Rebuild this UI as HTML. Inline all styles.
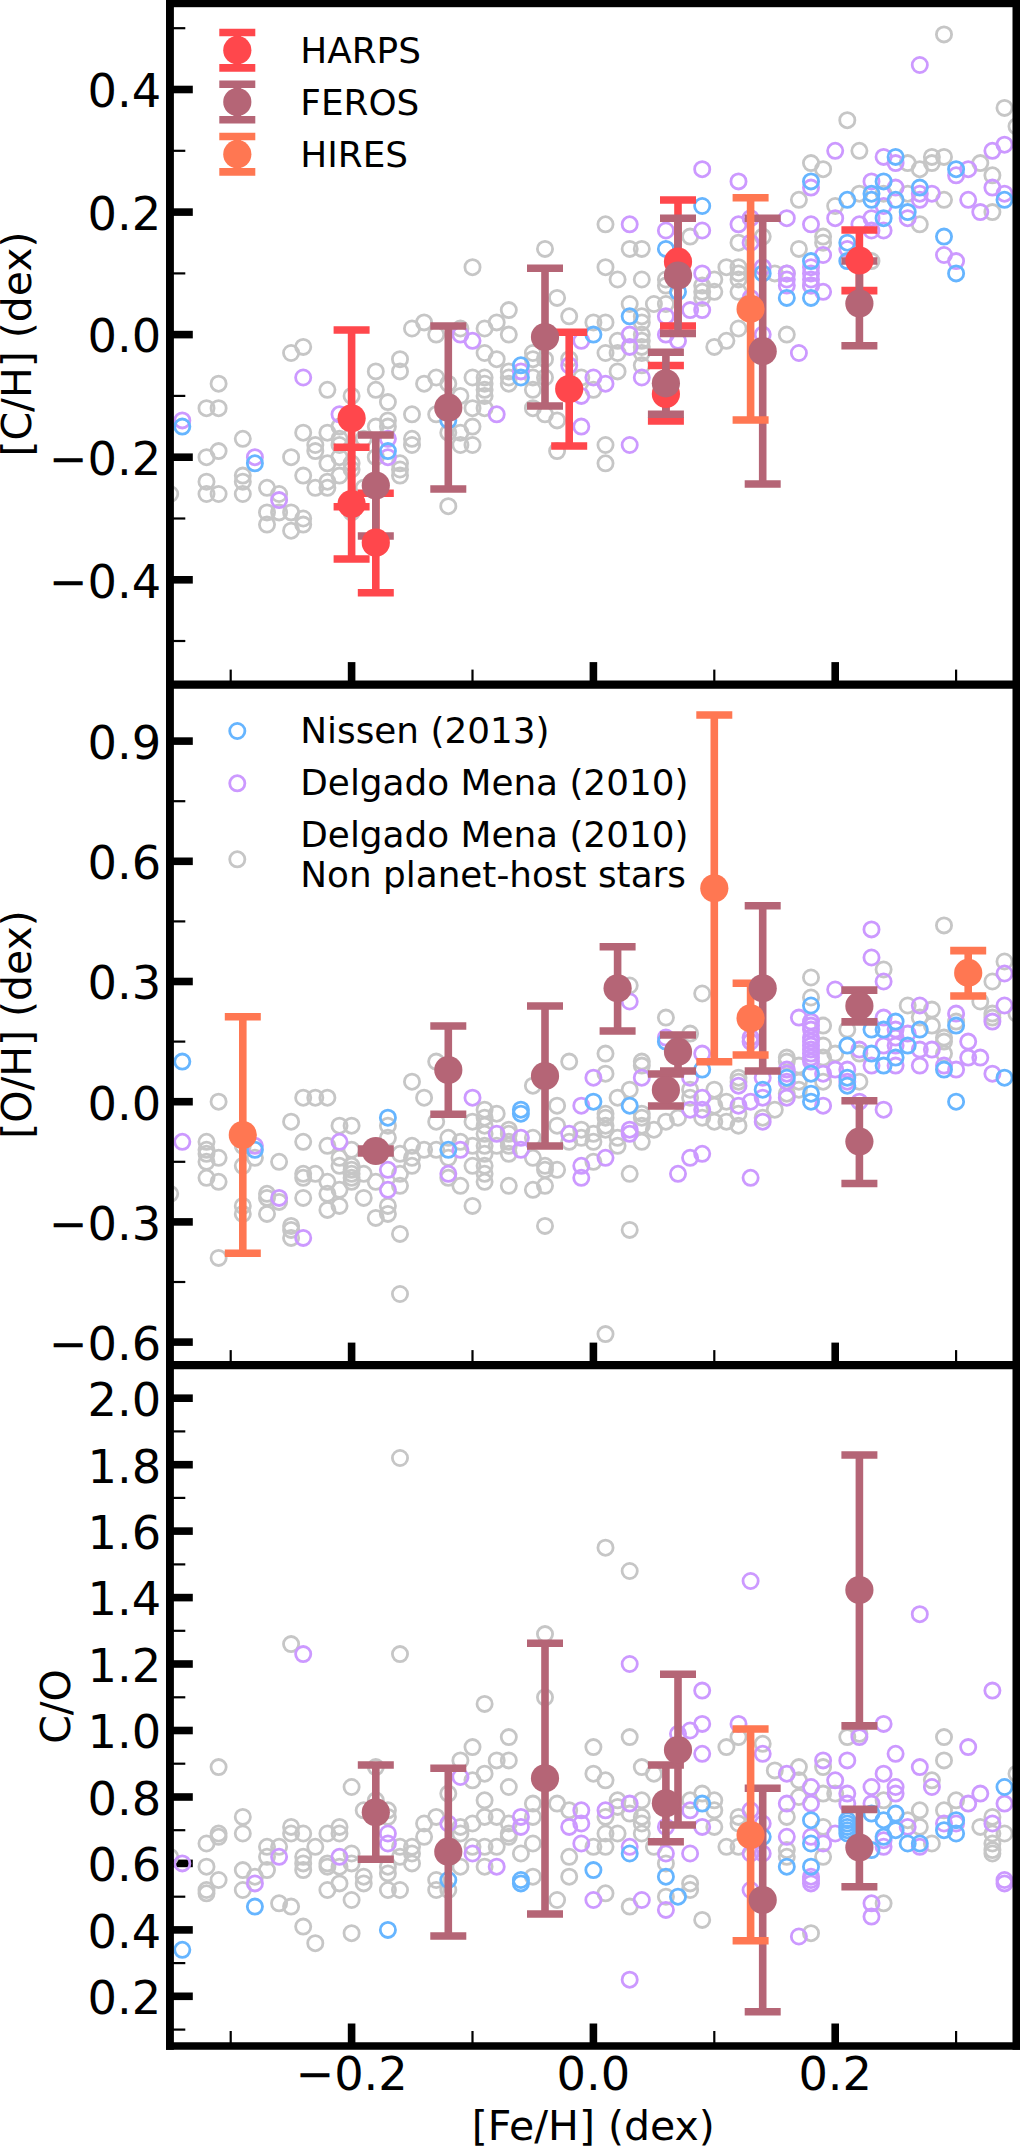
<!DOCTYPE html><html><head><meta charset="utf-8"><title>abundances</title>
<style>html,body{margin:0;padding:0;background:#fff}svg{display:block}text{font-family:"DejaVu Sans","Liberation Sans",sans-serif;fill:#000}</style></head><body>
<svg width="1020" height="2146" viewBox="0 0 1020 2146">
<rect width="1020" height="2146" fill="#fff"/>
<defs>
<clipPath id="c1"><rect x="170.3" y="3.6" width="846.0" height="681.0"/></clipPath>
<clipPath id="c2"><rect x="170.3" y="684.6" width="846.0" height="680.4999999999999"/></clipPath>
<clipPath id="c3"><rect x="170.3" y="1365.1" width="846.0" height="680.9000000000001"/></clipPath>
</defs>
<g stroke="#000" fill="none">
<path d="M351.6 684.6v-22.5" stroke-width="7.6"/>
<path d="M593.4 684.6v-22.5" stroke-width="7.6"/>
<path d="M835.2 684.6v-22.5" stroke-width="7.6"/>
<path d="M230.7 684.6v-15" stroke-width="2.2"/>
<path d="M472.5 684.6v-15" stroke-width="2.2"/>
<path d="M714.3 684.6v-15" stroke-width="2.2"/>
<path d="M956.1 684.6v-15" stroke-width="2.2"/>
<path d="M351.6 1365.1v-22.5" stroke-width="7.6"/>
<path d="M593.4 1365.1v-22.5" stroke-width="7.6"/>
<path d="M835.2 1365.1v-22.5" stroke-width="7.6"/>
<path d="M230.7 1365.1v-15" stroke-width="2.2"/>
<path d="M472.5 1365.1v-15" stroke-width="2.2"/>
<path d="M714.3 1365.1v-15" stroke-width="2.2"/>
<path d="M956.1 1365.1v-15" stroke-width="2.2"/>
<path d="M351.6 2046.0v-22.5" stroke-width="7.6"/>
<path d="M593.4 2046.0v-22.5" stroke-width="7.6"/>
<path d="M835.2 2046.0v-22.5" stroke-width="7.6"/>
<path d="M230.7 2046.0v-15" stroke-width="2.2"/>
<path d="M472.5 2046.0v-15" stroke-width="2.2"/>
<path d="M714.3 2046.0v-15" stroke-width="2.2"/>
<path d="M956.1 2046.0v-15" stroke-width="2.2"/>
<path d="M170.3 89.5h22.5" stroke-width="7.6"/>
<path d="M170.3 212.1h22.5" stroke-width="7.6"/>
<path d="M170.3 334.6h22.5" stroke-width="7.6"/>
<path d="M170.3 457.2h22.5" stroke-width="7.6"/>
<path d="M170.3 579.8h22.5" stroke-width="7.6"/>
<path d="M170.3 28.2h15" stroke-width="2.2"/>
<path d="M170.3 150.8h15" stroke-width="2.2"/>
<path d="M170.3 273.4h15" stroke-width="2.2"/>
<path d="M170.3 395.9h15" stroke-width="2.2"/>
<path d="M170.3 518.5h15" stroke-width="2.2"/>
<path d="M170.3 641.0h15" stroke-width="2.2"/>
<path d="M170.3 741.1h22.5" stroke-width="7.6"/>
<path d="M170.3 861.3h22.5" stroke-width="7.6"/>
<path d="M170.3 981.5h22.5" stroke-width="7.6"/>
<path d="M170.3 1101.7h22.5" stroke-width="7.6"/>
<path d="M170.3 1221.9h22.5" stroke-width="7.6"/>
<path d="M170.3 1342.1h22.5" stroke-width="7.6"/>
<path d="M170.3 801.2h15" stroke-width="2.2"/>
<path d="M170.3 921.4h15" stroke-width="2.2"/>
<path d="M170.3 1041.6h15" stroke-width="2.2"/>
<path d="M170.3 1161.8h15" stroke-width="2.2"/>
<path d="M170.3 1282.0h15" stroke-width="2.2"/>
<path d="M170.3 1398.2h22.5" stroke-width="7.6"/>
<path d="M170.3 1464.7h22.5" stroke-width="7.6"/>
<path d="M170.3 1531.1h22.5" stroke-width="7.6"/>
<path d="M170.3 1597.6h22.5" stroke-width="7.6"/>
<path d="M170.3 1664.0h22.5" stroke-width="7.6"/>
<path d="M170.3 1730.5h22.5" stroke-width="7.6"/>
<path d="M170.3 1797.0h22.5" stroke-width="7.6"/>
<path d="M170.3 1863.4h22.5" stroke-width="7.6"/>
<path d="M170.3 1929.9h22.5" stroke-width="7.6"/>
<path d="M170.3 1996.3h22.5" stroke-width="7.6"/>
<path d="M170.3 1431.4h15" stroke-width="2.2"/>
<path d="M170.3 1497.9h15" stroke-width="2.2"/>
<path d="M170.3 1564.4h15" stroke-width="2.2"/>
<path d="M170.3 1630.8h15" stroke-width="2.2"/>
<path d="M170.3 1697.3h15" stroke-width="2.2"/>
<path d="M170.3 1763.7h15" stroke-width="2.2"/>
<path d="M170.3 1830.2h15" stroke-width="2.2"/>
<path d="M170.3 1896.7h15" stroke-width="2.2"/>
<path d="M170.3 1963.1h15" stroke-width="2.2"/>
<path d="M170.3 2029.6h15" stroke-width="2.2"/>
</g>
<g clip-path="url(#c1)" fill="none" stroke-width="2.8">
<g stroke="#c6c6c6">
<circle cx="170.2" cy="494.0" r="7.6"/>
<circle cx="206.5" cy="494.0" r="7.6"/>
<circle cx="206.5" cy="481.7" r="7.6"/>
<circle cx="206.5" cy="457.2" r="7.6"/>
<circle cx="206.5" cy="408.2" r="7.6"/>
<circle cx="218.6" cy="494.0" r="7.6"/>
<circle cx="218.6" cy="451.1" r="7.6"/>
<circle cx="218.6" cy="408.2" r="7.6"/>
<circle cx="218.6" cy="383.7" r="7.6"/>
<circle cx="242.8" cy="494.0" r="7.6"/>
<circle cx="242.8" cy="481.7" r="7.6"/>
<circle cx="242.8" cy="475.6" r="7.6"/>
<circle cx="242.8" cy="438.8" r="7.6"/>
<circle cx="267.0" cy="524.6" r="7.6"/>
<circle cx="267.0" cy="512.4" r="7.6"/>
<circle cx="267.0" cy="487.8" r="7.6"/>
<circle cx="279.1" cy="512.4" r="7.6"/>
<circle cx="279.1" cy="494.0" r="7.6"/>
<circle cx="291.1" cy="530.7" r="7.6"/>
<circle cx="291.1" cy="512.4" r="7.6"/>
<circle cx="291.1" cy="457.2" r="7.6"/>
<circle cx="291.1" cy="353.0" r="7.6"/>
<circle cx="303.2" cy="524.6" r="7.6"/>
<circle cx="303.2" cy="518.5" r="7.6"/>
<circle cx="303.2" cy="475.6" r="7.6"/>
<circle cx="303.2" cy="432.7" r="7.6"/>
<circle cx="303.2" cy="346.9" r="7.6"/>
<circle cx="315.3" cy="487.8" r="7.6"/>
<circle cx="315.3" cy="451.1" r="7.6"/>
<circle cx="315.3" cy="445.0" r="7.6"/>
<circle cx="327.4" cy="487.8" r="7.6"/>
<circle cx="327.4" cy="481.7" r="7.6"/>
<circle cx="327.4" cy="463.3" r="7.6"/>
<circle cx="327.4" cy="432.7" r="7.6"/>
<circle cx="327.4" cy="389.8" r="7.6"/>
<circle cx="339.5" cy="475.6" r="7.6"/>
<circle cx="339.5" cy="457.2" r="7.6"/>
<circle cx="339.5" cy="445.0" r="7.6"/>
<circle cx="339.5" cy="438.8" r="7.6"/>
<circle cx="339.5" cy="426.6" r="7.6"/>
<circle cx="351.6" cy="512.4" r="7.6"/>
<circle cx="351.6" cy="469.5" r="7.6"/>
<circle cx="351.6" cy="463.3" r="7.6"/>
<circle cx="351.6" cy="395.9" r="7.6"/>
<circle cx="363.7" cy="487.8" r="7.6"/>
<circle cx="363.7" cy="438.8" r="7.6"/>
<circle cx="375.8" cy="457.2" r="7.6"/>
<circle cx="375.8" cy="426.6" r="7.6"/>
<circle cx="375.8" cy="389.8" r="7.6"/>
<circle cx="375.8" cy="371.4" r="7.6"/>
<circle cx="387.9" cy="426.6" r="7.6"/>
<circle cx="387.9" cy="420.4" r="7.6"/>
<circle cx="387.9" cy="402.1" r="7.6"/>
<circle cx="400.0" cy="475.6" r="7.6"/>
<circle cx="400.0" cy="469.5" r="7.6"/>
<circle cx="400.0" cy="463.3" r="7.6"/>
<circle cx="400.0" cy="371.4" r="7.6"/>
<circle cx="400.0" cy="359.2" r="7.6"/>
<circle cx="412.0" cy="445.0" r="7.6"/>
<circle cx="412.0" cy="438.8" r="7.6"/>
<circle cx="412.0" cy="414.3" r="7.6"/>
<circle cx="412.0" cy="328.5" r="7.6"/>
<circle cx="424.1" cy="383.7" r="7.6"/>
<circle cx="424.1" cy="322.4" r="7.6"/>
<circle cx="436.2" cy="414.3" r="7.6"/>
<circle cx="436.2" cy="377.5" r="7.6"/>
<circle cx="436.2" cy="334.6" r="7.6"/>
<circle cx="448.3" cy="506.2" r="7.6"/>
<circle cx="448.3" cy="432.7" r="7.6"/>
<circle cx="448.3" cy="383.7" r="7.6"/>
<circle cx="460.4" cy="445.0" r="7.6"/>
<circle cx="460.4" cy="432.7" r="7.6"/>
<circle cx="460.4" cy="395.9" r="7.6"/>
<circle cx="460.4" cy="328.5" r="7.6"/>
<circle cx="472.5" cy="445.0" r="7.6"/>
<circle cx="472.5" cy="426.6" r="7.6"/>
<circle cx="472.5" cy="408.2" r="7.6"/>
<circle cx="472.5" cy="377.5" r="7.6"/>
<circle cx="472.5" cy="267.2" r="7.6"/>
<circle cx="484.6" cy="408.2" r="7.6"/>
<circle cx="484.6" cy="395.9" r="7.6"/>
<circle cx="484.6" cy="389.8" r="7.6"/>
<circle cx="484.6" cy="383.7" r="7.6"/>
<circle cx="484.6" cy="377.5" r="7.6"/>
<circle cx="484.6" cy="353.0" r="7.6"/>
<circle cx="484.6" cy="328.5" r="7.6"/>
<circle cx="496.7" cy="359.2" r="7.6"/>
<circle cx="496.7" cy="322.4" r="7.6"/>
<circle cx="508.8" cy="383.7" r="7.6"/>
<circle cx="508.8" cy="377.5" r="7.6"/>
<circle cx="508.8" cy="371.4" r="7.6"/>
<circle cx="508.8" cy="334.6" r="7.6"/>
<circle cx="508.8" cy="310.1" r="7.6"/>
<circle cx="532.9" cy="408.2" r="7.6"/>
<circle cx="532.9" cy="389.8" r="7.6"/>
<circle cx="532.9" cy="377.5" r="7.6"/>
<circle cx="532.9" cy="359.2" r="7.6"/>
<circle cx="532.9" cy="353.0" r="7.6"/>
<circle cx="545.0" cy="414.3" r="7.6"/>
<circle cx="545.0" cy="377.5" r="7.6"/>
<circle cx="545.0" cy="359.2" r="7.6"/>
<circle cx="545.0" cy="248.9" r="7.6"/>
<circle cx="557.1" cy="451.1" r="7.6"/>
<circle cx="557.1" cy="420.4" r="7.6"/>
<circle cx="557.1" cy="297.9" r="7.6"/>
<circle cx="569.2" cy="359.2" r="7.6"/>
<circle cx="569.2" cy="316.3" r="7.6"/>
<circle cx="581.3" cy="377.5" r="7.6"/>
<circle cx="593.4" cy="389.8" r="7.6"/>
<circle cx="593.4" cy="322.4" r="7.6"/>
<circle cx="605.5" cy="463.3" r="7.6"/>
<circle cx="605.5" cy="445.0" r="7.6"/>
<circle cx="605.5" cy="353.0" r="7.6"/>
<circle cx="605.5" cy="322.4" r="7.6"/>
<circle cx="605.5" cy="267.2" r="7.6"/>
<circle cx="605.5" cy="224.3" r="7.6"/>
<circle cx="617.6" cy="371.4" r="7.6"/>
<circle cx="617.6" cy="353.0" r="7.6"/>
<circle cx="617.6" cy="340.8" r="7.6"/>
<circle cx="617.6" cy="279.5" r="7.6"/>
<circle cx="629.7" cy="304.0" r="7.6"/>
<circle cx="629.7" cy="248.9" r="7.6"/>
<circle cx="641.8" cy="365.3" r="7.6"/>
<circle cx="641.8" cy="353.0" r="7.6"/>
<circle cx="641.8" cy="346.9" r="7.6"/>
<circle cx="641.8" cy="340.8" r="7.6"/>
<circle cx="641.8" cy="334.6" r="7.6"/>
<circle cx="641.8" cy="322.4" r="7.6"/>
<circle cx="641.8" cy="316.3" r="7.6"/>
<circle cx="641.8" cy="279.5" r="7.6"/>
<circle cx="641.8" cy="248.9" r="7.6"/>
<circle cx="653.9" cy="304.0" r="7.6"/>
<circle cx="665.9" cy="304.0" r="7.6"/>
<circle cx="665.9" cy="285.6" r="7.6"/>
<circle cx="665.9" cy="279.5" r="7.6"/>
<circle cx="690.1" cy="236.6" r="7.6"/>
<circle cx="702.2" cy="297.9" r="7.6"/>
<circle cx="702.2" cy="291.8" r="7.6"/>
<circle cx="702.2" cy="285.6" r="7.6"/>
<circle cx="714.3" cy="346.9" r="7.6"/>
<circle cx="714.3" cy="291.8" r="7.6"/>
<circle cx="714.3" cy="279.5" r="7.6"/>
<circle cx="726.4" cy="340.8" r="7.6"/>
<circle cx="726.4" cy="267.2" r="7.6"/>
<circle cx="738.5" cy="328.5" r="7.6"/>
<circle cx="738.5" cy="291.8" r="7.6"/>
<circle cx="738.5" cy="279.5" r="7.6"/>
<circle cx="738.5" cy="273.4" r="7.6"/>
<circle cx="738.5" cy="267.2" r="7.6"/>
<circle cx="738.5" cy="242.7" r="7.6"/>
<circle cx="762.7" cy="236.6" r="7.6"/>
<circle cx="774.8" cy="273.4" r="7.6"/>
<circle cx="786.8" cy="334.6" r="7.6"/>
<circle cx="786.8" cy="273.4" r="7.6"/>
<circle cx="798.9" cy="248.9" r="7.6"/>
<circle cx="798.9" cy="199.8" r="7.6"/>
<circle cx="811.0" cy="285.6" r="7.6"/>
<circle cx="811.0" cy="163.1" r="7.6"/>
<circle cx="823.1" cy="242.7" r="7.6"/>
<circle cx="823.1" cy="236.6" r="7.6"/>
<circle cx="823.1" cy="169.2" r="7.6"/>
<circle cx="835.2" cy="206.0" r="7.6"/>
<circle cx="847.3" cy="120.2" r="7.6"/>
<circle cx="859.4" cy="193.7" r="7.6"/>
<circle cx="859.4" cy="150.8" r="7.6"/>
<circle cx="871.5" cy="261.1" r="7.6"/>
<circle cx="883.6" cy="193.7" r="7.6"/>
<circle cx="907.7" cy="193.7" r="7.6"/>
<circle cx="907.7" cy="163.1" r="7.6"/>
<circle cx="919.8" cy="224.3" r="7.6"/>
<circle cx="919.8" cy="169.2" r="7.6"/>
<circle cx="931.9" cy="163.1" r="7.6"/>
<circle cx="931.9" cy="156.9" r="7.6"/>
<circle cx="944.0" cy="199.8" r="7.6"/>
<circle cx="944.0" cy="156.9" r="7.6"/>
<circle cx="944.0" cy="34.4" r="7.6"/>
<circle cx="980.3" cy="163.1" r="7.6"/>
<circle cx="992.4" cy="212.1" r="7.6"/>
<circle cx="992.4" cy="175.3" r="7.6"/>
<circle cx="1004.5" cy="107.9" r="7.6"/>
<circle cx="1016.5" cy="126.3" r="7.6"/>
</g>
<g stroke="#cc99ff">
<circle cx="182.3" cy="420.4" r="7.6"/>
<circle cx="254.9" cy="457.2" r="7.6"/>
<circle cx="279.1" cy="500.1" r="7.6"/>
<circle cx="303.2" cy="377.5" r="7.6"/>
<circle cx="339.5" cy="414.3" r="7.6"/>
<circle cx="387.9" cy="457.2" r="7.6"/>
<circle cx="387.9" cy="438.8" r="7.6"/>
<circle cx="460.4" cy="334.6" r="7.6"/>
<circle cx="472.5" cy="340.8" r="7.6"/>
<circle cx="496.7" cy="414.3" r="7.6"/>
<circle cx="520.9" cy="371.4" r="7.6"/>
<circle cx="569.2" cy="365.3" r="7.6"/>
<circle cx="581.3" cy="426.6" r="7.6"/>
<circle cx="581.3" cy="395.9" r="7.6"/>
<circle cx="581.3" cy="340.8" r="7.6"/>
<circle cx="593.4" cy="377.5" r="7.6"/>
<circle cx="605.5" cy="383.7" r="7.6"/>
<circle cx="629.7" cy="445.0" r="7.6"/>
<circle cx="629.7" cy="346.9" r="7.6"/>
<circle cx="629.7" cy="334.6" r="7.6"/>
<circle cx="629.7" cy="224.3" r="7.6"/>
<circle cx="641.8" cy="377.5" r="7.6"/>
<circle cx="665.9" cy="334.6" r="7.6"/>
<circle cx="665.9" cy="316.3" r="7.6"/>
<circle cx="665.9" cy="230.5" r="7.6"/>
<circle cx="678.0" cy="340.8" r="7.6"/>
<circle cx="690.1" cy="310.1" r="7.6"/>
<circle cx="702.2" cy="310.1" r="7.6"/>
<circle cx="702.2" cy="273.4" r="7.6"/>
<circle cx="702.2" cy="230.5" r="7.6"/>
<circle cx="702.2" cy="169.2" r="7.6"/>
<circle cx="738.5" cy="224.3" r="7.6"/>
<circle cx="738.5" cy="181.4" r="7.6"/>
<circle cx="750.6" cy="297.9" r="7.6"/>
<circle cx="750.6" cy="242.7" r="7.6"/>
<circle cx="750.6" cy="218.2" r="7.6"/>
<circle cx="762.7" cy="334.6" r="7.6"/>
<circle cx="762.7" cy="267.2" r="7.6"/>
<circle cx="786.8" cy="285.6" r="7.6"/>
<circle cx="786.8" cy="279.5" r="7.6"/>
<circle cx="786.8" cy="273.4" r="7.6"/>
<circle cx="786.8" cy="218.2" r="7.6"/>
<circle cx="798.9" cy="353.0" r="7.6"/>
<circle cx="811.0" cy="285.6" r="7.6"/>
<circle cx="811.0" cy="279.5" r="7.6"/>
<circle cx="811.0" cy="273.4" r="7.6"/>
<circle cx="811.0" cy="267.2" r="7.6"/>
<circle cx="811.0" cy="224.3" r="7.6"/>
<circle cx="811.0" cy="187.6" r="7.6"/>
<circle cx="823.1" cy="291.8" r="7.6"/>
<circle cx="823.1" cy="255.0" r="7.6"/>
<circle cx="835.2" cy="218.2" r="7.6"/>
<circle cx="835.2" cy="150.8" r="7.6"/>
<circle cx="847.3" cy="248.9" r="7.6"/>
<circle cx="859.4" cy="224.3" r="7.6"/>
<circle cx="871.5" cy="230.5" r="7.6"/>
<circle cx="871.5" cy="218.2" r="7.6"/>
<circle cx="871.5" cy="181.4" r="7.6"/>
<circle cx="883.6" cy="230.5" r="7.6"/>
<circle cx="883.6" cy="206.0" r="7.6"/>
<circle cx="883.6" cy="156.9" r="7.6"/>
<circle cx="895.6" cy="187.6" r="7.6"/>
<circle cx="895.6" cy="163.1" r="7.6"/>
<circle cx="907.7" cy="218.2" r="7.6"/>
<circle cx="919.8" cy="199.8" r="7.6"/>
<circle cx="919.8" cy="193.7" r="7.6"/>
<circle cx="919.8" cy="65.0" r="7.6"/>
<circle cx="931.9" cy="193.7" r="7.6"/>
<circle cx="944.0" cy="255.0" r="7.6"/>
<circle cx="956.1" cy="261.1" r="7.6"/>
<circle cx="956.1" cy="175.3" r="7.6"/>
<circle cx="968.2" cy="199.8" r="7.6"/>
<circle cx="968.2" cy="169.2" r="7.6"/>
<circle cx="980.3" cy="212.1" r="7.6"/>
<circle cx="992.4" cy="187.6" r="7.6"/>
<circle cx="992.4" cy="150.8" r="7.6"/>
<circle cx="1004.5" cy="193.7" r="7.6"/>
<circle cx="1004.5" cy="144.7" r="7.6"/>
</g>
<g stroke="#66b5ff">
<circle cx="182.3" cy="426.6" r="7.6"/>
<circle cx="254.9" cy="463.3" r="7.6"/>
<circle cx="387.9" cy="451.1" r="7.6"/>
<circle cx="448.3" cy="420.4" r="7.6"/>
<circle cx="520.9" cy="377.5" r="7.6"/>
<circle cx="520.9" cy="365.3" r="7.6"/>
<circle cx="593.4" cy="334.6" r="7.6"/>
<circle cx="629.7" cy="316.3" r="7.6"/>
<circle cx="665.9" cy="248.9" r="7.6"/>
<circle cx="678.0" cy="291.8" r="7.6"/>
<circle cx="702.2" cy="206.0" r="7.6"/>
<circle cx="762.7" cy="273.4" r="7.6"/>
<circle cx="786.8" cy="297.9" r="7.6"/>
<circle cx="811.0" cy="297.9" r="7.6"/>
<circle cx="811.0" cy="261.1" r="7.6"/>
<circle cx="811.0" cy="181.4" r="7.6"/>
<circle cx="847.3" cy="261.1" r="7.6"/>
<circle cx="847.3" cy="242.7" r="7.6"/>
<circle cx="847.3" cy="199.8" r="7.6"/>
<circle cx="871.5" cy="199.8" r="7.6"/>
<circle cx="871.5" cy="193.7" r="7.6"/>
<circle cx="883.6" cy="218.2" r="7.6"/>
<circle cx="883.6" cy="181.4" r="7.6"/>
<circle cx="895.6" cy="199.8" r="7.6"/>
<circle cx="895.6" cy="156.9" r="7.6"/>
<circle cx="907.7" cy="212.1" r="7.6"/>
<circle cx="919.8" cy="187.6" r="7.6"/>
<circle cx="944.0" cy="236.6" r="7.6"/>
<circle cx="956.1" cy="273.4" r="7.6"/>
<circle cx="956.1" cy="169.2" r="7.6"/>
<circle cx="1004.5" cy="199.8" r="7.6"/>
</g>
</g>
<g clip-path="url(#c2)" fill="none" stroke-width="2.8">
<g stroke="#c6c6c6">
<circle cx="170.2" cy="1193.8" r="7.6"/>
<circle cx="206.5" cy="1177.8" r="7.6"/>
<circle cx="206.5" cy="1161.8" r="7.6"/>
<circle cx="206.5" cy="1153.8" r="7.6"/>
<circle cx="206.5" cy="1149.8" r="7.6"/>
<circle cx="206.5" cy="1141.8" r="7.6"/>
<circle cx="218.6" cy="1257.9" r="7.6"/>
<circle cx="218.6" cy="1181.8" r="7.6"/>
<circle cx="218.6" cy="1157.8" r="7.6"/>
<circle cx="218.6" cy="1101.7" r="7.6"/>
<circle cx="242.8" cy="1213.9" r="7.6"/>
<circle cx="242.8" cy="1205.9" r="7.6"/>
<circle cx="242.8" cy="1165.8" r="7.6"/>
<circle cx="242.8" cy="1145.8" r="7.6"/>
<circle cx="254.9" cy="1157.8" r="7.6"/>
<circle cx="267.0" cy="1213.9" r="7.6"/>
<circle cx="267.0" cy="1197.9" r="7.6"/>
<circle cx="267.0" cy="1193.8" r="7.6"/>
<circle cx="279.1" cy="1201.9" r="7.6"/>
<circle cx="279.1" cy="1161.8" r="7.6"/>
<circle cx="291.1" cy="1237.9" r="7.6"/>
<circle cx="291.1" cy="1229.9" r="7.6"/>
<circle cx="291.1" cy="1225.9" r="7.6"/>
<circle cx="291.1" cy="1121.7" r="7.6"/>
<circle cx="303.2" cy="1197.9" r="7.6"/>
<circle cx="303.2" cy="1177.8" r="7.6"/>
<circle cx="303.2" cy="1173.8" r="7.6"/>
<circle cx="303.2" cy="1141.8" r="7.6"/>
<circle cx="303.2" cy="1097.7" r="7.6"/>
<circle cx="315.3" cy="1173.8" r="7.6"/>
<circle cx="315.3" cy="1097.7" r="7.6"/>
<circle cx="327.4" cy="1209.9" r="7.6"/>
<circle cx="327.4" cy="1193.8" r="7.6"/>
<circle cx="327.4" cy="1181.8" r="7.6"/>
<circle cx="327.4" cy="1145.8" r="7.6"/>
<circle cx="327.4" cy="1097.7" r="7.6"/>
<circle cx="339.5" cy="1205.9" r="7.6"/>
<circle cx="339.5" cy="1189.8" r="7.6"/>
<circle cx="339.5" cy="1165.8" r="7.6"/>
<circle cx="339.5" cy="1157.8" r="7.6"/>
<circle cx="339.5" cy="1125.7" r="7.6"/>
<circle cx="351.6" cy="1181.8" r="7.6"/>
<circle cx="351.6" cy="1177.8" r="7.6"/>
<circle cx="351.6" cy="1173.8" r="7.6"/>
<circle cx="351.6" cy="1169.8" r="7.6"/>
<circle cx="351.6" cy="1165.8" r="7.6"/>
<circle cx="351.6" cy="1149.8" r="7.6"/>
<circle cx="351.6" cy="1125.7" r="7.6"/>
<circle cx="363.7" cy="1197.9" r="7.6"/>
<circle cx="363.7" cy="1173.8" r="7.6"/>
<circle cx="375.8" cy="1217.9" r="7.6"/>
<circle cx="375.8" cy="1181.8" r="7.6"/>
<circle cx="387.9" cy="1213.9" r="7.6"/>
<circle cx="387.9" cy="1205.9" r="7.6"/>
<circle cx="387.9" cy="1137.8" r="7.6"/>
<circle cx="387.9" cy="1125.7" r="7.6"/>
<circle cx="400.0" cy="1294.0" r="7.6"/>
<circle cx="400.0" cy="1233.9" r="7.6"/>
<circle cx="400.0" cy="1185.8" r="7.6"/>
<circle cx="400.0" cy="1173.8" r="7.6"/>
<circle cx="400.0" cy="1153.8" r="7.6"/>
<circle cx="412.0" cy="1165.8" r="7.6"/>
<circle cx="412.0" cy="1157.8" r="7.6"/>
<circle cx="412.0" cy="1145.8" r="7.6"/>
<circle cx="412.0" cy="1081.7" r="7.6"/>
<circle cx="424.1" cy="1149.8" r="7.6"/>
<circle cx="424.1" cy="1097.7" r="7.6"/>
<circle cx="436.2" cy="1149.8" r="7.6"/>
<circle cx="436.2" cy="1121.7" r="7.6"/>
<circle cx="436.2" cy="1061.6" r="7.6"/>
<circle cx="448.3" cy="1177.8" r="7.6"/>
<circle cx="448.3" cy="1157.8" r="7.6"/>
<circle cx="448.3" cy="1137.8" r="7.6"/>
<circle cx="460.4" cy="1185.8" r="7.6"/>
<circle cx="460.4" cy="1141.8" r="7.6"/>
<circle cx="472.5" cy="1205.9" r="7.6"/>
<circle cx="472.5" cy="1165.8" r="7.6"/>
<circle cx="472.5" cy="1145.8" r="7.6"/>
<circle cx="472.5" cy="1121.7" r="7.6"/>
<circle cx="484.6" cy="1181.8" r="7.6"/>
<circle cx="484.6" cy="1173.8" r="7.6"/>
<circle cx="484.6" cy="1165.8" r="7.6"/>
<circle cx="484.6" cy="1153.8" r="7.6"/>
<circle cx="484.6" cy="1145.8" r="7.6"/>
<circle cx="484.6" cy="1133.8" r="7.6"/>
<circle cx="484.6" cy="1125.7" r="7.6"/>
<circle cx="484.6" cy="1117.7" r="7.6"/>
<circle cx="484.6" cy="1109.7" r="7.6"/>
<circle cx="496.7" cy="1145.8" r="7.6"/>
<circle cx="496.7" cy="1113.7" r="7.6"/>
<circle cx="508.8" cy="1185.8" r="7.6"/>
<circle cx="508.8" cy="1153.8" r="7.6"/>
<circle cx="508.8" cy="1145.8" r="7.6"/>
<circle cx="508.8" cy="1141.8" r="7.6"/>
<circle cx="508.8" cy="1133.8" r="7.6"/>
<circle cx="508.8" cy="1129.7" r="7.6"/>
<circle cx="532.9" cy="1189.8" r="7.6"/>
<circle cx="532.9" cy="1157.8" r="7.6"/>
<circle cx="532.9" cy="1137.8" r="7.6"/>
<circle cx="532.9" cy="1085.7" r="7.6"/>
<circle cx="545.0" cy="1225.9" r="7.6"/>
<circle cx="545.0" cy="1185.8" r="7.6"/>
<circle cx="545.0" cy="1169.8" r="7.6"/>
<circle cx="545.0" cy="1165.8" r="7.6"/>
<circle cx="557.1" cy="1169.8" r="7.6"/>
<circle cx="557.1" cy="1125.7" r="7.6"/>
<circle cx="557.1" cy="1105.7" r="7.6"/>
<circle cx="569.2" cy="1141.8" r="7.6"/>
<circle cx="569.2" cy="1061.6" r="7.6"/>
<circle cx="581.3" cy="1137.8" r="7.6"/>
<circle cx="581.3" cy="1129.7" r="7.6"/>
<circle cx="593.4" cy="1161.8" r="7.6"/>
<circle cx="593.4" cy="1141.8" r="7.6"/>
<circle cx="593.4" cy="1133.8" r="7.6"/>
<circle cx="605.5" cy="1334.1" r="7.6"/>
<circle cx="605.5" cy="1129.7" r="7.6"/>
<circle cx="605.5" cy="1125.7" r="7.6"/>
<circle cx="605.5" cy="1117.7" r="7.6"/>
<circle cx="605.5" cy="1113.7" r="7.6"/>
<circle cx="605.5" cy="1073.7" r="7.6"/>
<circle cx="605.5" cy="1053.6" r="7.6"/>
<circle cx="617.6" cy="1145.8" r="7.6"/>
<circle cx="617.6" cy="1137.8" r="7.6"/>
<circle cx="617.6" cy="1097.7" r="7.6"/>
<circle cx="629.7" cy="1229.9" r="7.6"/>
<circle cx="629.7" cy="1173.8" r="7.6"/>
<circle cx="629.7" cy="1089.7" r="7.6"/>
<circle cx="629.7" cy="985.5" r="7.6"/>
<circle cx="641.8" cy="1141.8" r="7.6"/>
<circle cx="641.8" cy="1125.7" r="7.6"/>
<circle cx="641.8" cy="1117.7" r="7.6"/>
<circle cx="641.8" cy="1113.7" r="7.6"/>
<circle cx="641.8" cy="1065.6" r="7.6"/>
<circle cx="641.8" cy="1061.6" r="7.6"/>
<circle cx="653.9" cy="1129.7" r="7.6"/>
<circle cx="665.9" cy="1121.7" r="7.6"/>
<circle cx="665.9" cy="1017.6" r="7.6"/>
<circle cx="678.0" cy="1117.7" r="7.6"/>
<circle cx="690.1" cy="1097.7" r="7.6"/>
<circle cx="690.1" cy="1089.7" r="7.6"/>
<circle cx="690.1" cy="1033.6" r="7.6"/>
<circle cx="702.2" cy="1117.7" r="7.6"/>
<circle cx="702.2" cy="993.5" r="7.6"/>
<circle cx="714.3" cy="1121.7" r="7.6"/>
<circle cx="714.3" cy="1105.7" r="7.6"/>
<circle cx="714.3" cy="1089.7" r="7.6"/>
<circle cx="726.4" cy="1121.7" r="7.6"/>
<circle cx="726.4" cy="1101.7" r="7.6"/>
<circle cx="738.5" cy="1125.7" r="7.6"/>
<circle cx="738.5" cy="1113.7" r="7.6"/>
<circle cx="738.5" cy="1081.7" r="7.6"/>
<circle cx="738.5" cy="1077.7" r="7.6"/>
<circle cx="762.7" cy="1117.7" r="7.6"/>
<circle cx="774.8" cy="1109.7" r="7.6"/>
<circle cx="786.8" cy="1093.7" r="7.6"/>
<circle cx="786.8" cy="1061.6" r="7.6"/>
<circle cx="786.8" cy="1057.6" r="7.6"/>
<circle cx="798.9" cy="1089.7" r="7.6"/>
<circle cx="798.9" cy="1081.7" r="7.6"/>
<circle cx="798.9" cy="1065.6" r="7.6"/>
<circle cx="811.0" cy="997.5" r="7.6"/>
<circle cx="811.0" cy="977.5" r="7.6"/>
<circle cx="823.1" cy="1081.7" r="7.6"/>
<circle cx="823.1" cy="1057.6" r="7.6"/>
<circle cx="823.1" cy="1045.6" r="7.6"/>
<circle cx="823.1" cy="1025.6" r="7.6"/>
<circle cx="835.2" cy="1053.6" r="7.6"/>
<circle cx="847.3" cy="1029.6" r="7.6"/>
<circle cx="859.4" cy="1081.7" r="7.6"/>
<circle cx="859.4" cy="1053.6" r="7.6"/>
<circle cx="883.6" cy="969.5" r="7.6"/>
<circle cx="907.7" cy="1005.5" r="7.6"/>
<circle cx="919.8" cy="1017.6" r="7.6"/>
<circle cx="931.9" cy="1025.6" r="7.6"/>
<circle cx="931.9" cy="1009.6" r="7.6"/>
<circle cx="944.0" cy="1053.6" r="7.6"/>
<circle cx="944.0" cy="1041.6" r="7.6"/>
<circle cx="944.0" cy="1037.6" r="7.6"/>
<circle cx="944.0" cy="925.4" r="7.6"/>
<circle cx="956.1" cy="1021.6" r="7.6"/>
<circle cx="980.3" cy="1001.5" r="7.6"/>
<circle cx="992.4" cy="1017.6" r="7.6"/>
<circle cx="992.4" cy="1013.6" r="7.6"/>
<circle cx="992.4" cy="981.5" r="7.6"/>
<circle cx="1004.5" cy="961.5" r="7.6"/>
<circle cx="1016.5" cy="1013.6" r="7.6"/>
</g>
<g stroke="#cc99ff">
<circle cx="182.3" cy="1141.8" r="7.6"/>
<circle cx="254.9" cy="1145.8" r="7.6"/>
<circle cx="279.1" cy="1197.9" r="7.6"/>
<circle cx="303.2" cy="1237.9" r="7.6"/>
<circle cx="339.5" cy="1141.8" r="7.6"/>
<circle cx="387.9" cy="1189.8" r="7.6"/>
<circle cx="387.9" cy="1169.8" r="7.6"/>
<circle cx="448.3" cy="1173.8" r="7.6"/>
<circle cx="460.4" cy="1149.8" r="7.6"/>
<circle cx="472.5" cy="1097.7" r="7.6"/>
<circle cx="496.7" cy="1133.8" r="7.6"/>
<circle cx="520.9" cy="1149.8" r="7.6"/>
<circle cx="520.9" cy="1137.8" r="7.6"/>
<circle cx="569.2" cy="1133.8" r="7.6"/>
<circle cx="581.3" cy="1177.8" r="7.6"/>
<circle cx="581.3" cy="1165.8" r="7.6"/>
<circle cx="581.3" cy="1105.7" r="7.6"/>
<circle cx="593.4" cy="1077.7" r="7.6"/>
<circle cx="605.5" cy="1157.8" r="7.6"/>
<circle cx="629.7" cy="1133.8" r="7.6"/>
<circle cx="629.7" cy="1129.7" r="7.6"/>
<circle cx="629.7" cy="1001.5" r="7.6"/>
<circle cx="641.8" cy="1077.7" r="7.6"/>
<circle cx="665.9" cy="1037.6" r="7.6"/>
<circle cx="678.0" cy="1173.8" r="7.6"/>
<circle cx="690.1" cy="1157.8" r="7.6"/>
<circle cx="690.1" cy="1109.7" r="7.6"/>
<circle cx="690.1" cy="1077.7" r="7.6"/>
<circle cx="702.2" cy="1153.8" r="7.6"/>
<circle cx="702.2" cy="1109.7" r="7.6"/>
<circle cx="702.2" cy="1097.7" r="7.6"/>
<circle cx="702.2" cy="1053.6" r="7.6"/>
<circle cx="738.5" cy="1105.7" r="7.6"/>
<circle cx="738.5" cy="1085.7" r="7.6"/>
<circle cx="750.6" cy="1177.8" r="7.6"/>
<circle cx="750.6" cy="1101.7" r="7.6"/>
<circle cx="750.6" cy="1041.6" r="7.6"/>
<circle cx="750.6" cy="1037.6" r="7.6"/>
<circle cx="762.7" cy="1121.7" r="7.6"/>
<circle cx="762.7" cy="1097.7" r="7.6"/>
<circle cx="762.7" cy="1077.7" r="7.6"/>
<circle cx="786.8" cy="1097.7" r="7.6"/>
<circle cx="786.8" cy="1081.7" r="7.6"/>
<circle cx="786.8" cy="1073.7" r="7.6"/>
<circle cx="786.8" cy="1069.6" r="7.6"/>
<circle cx="798.9" cy="1017.6" r="7.6"/>
<circle cx="811.0" cy="1061.6" r="7.6"/>
<circle cx="811.0" cy="1057.6" r="7.6"/>
<circle cx="811.0" cy="1053.6" r="7.6"/>
<circle cx="811.0" cy="1049.6" r="7.6"/>
<circle cx="811.0" cy="1045.6" r="7.6"/>
<circle cx="811.0" cy="1041.6" r="7.6"/>
<circle cx="811.0" cy="1037.6" r="7.6"/>
<circle cx="811.0" cy="1029.6" r="7.6"/>
<circle cx="811.0" cy="1025.6" r="7.6"/>
<circle cx="811.0" cy="1021.6" r="7.6"/>
<circle cx="823.1" cy="1105.7" r="7.6"/>
<circle cx="823.1" cy="1073.7" r="7.6"/>
<circle cx="835.2" cy="1069.6" r="7.6"/>
<circle cx="835.2" cy="989.5" r="7.6"/>
<circle cx="847.3" cy="1081.7" r="7.6"/>
<circle cx="847.3" cy="1069.6" r="7.6"/>
<circle cx="859.4" cy="1101.7" r="7.6"/>
<circle cx="859.4" cy="1049.6" r="7.6"/>
<circle cx="871.5" cy="1065.6" r="7.6"/>
<circle cx="871.5" cy="957.5" r="7.6"/>
<circle cx="871.5" cy="929.4" r="7.6"/>
<circle cx="883.6" cy="1109.7" r="7.6"/>
<circle cx="883.6" cy="1045.6" r="7.6"/>
<circle cx="883.6" cy="1017.6" r="7.6"/>
<circle cx="883.6" cy="981.5" r="7.6"/>
<circle cx="895.6" cy="1065.6" r="7.6"/>
<circle cx="895.6" cy="1045.6" r="7.6"/>
<circle cx="895.6" cy="1037.6" r="7.6"/>
<circle cx="895.6" cy="1029.6" r="7.6"/>
<circle cx="907.7" cy="1033.6" r="7.6"/>
<circle cx="919.8" cy="1065.6" r="7.6"/>
<circle cx="919.8" cy="1049.6" r="7.6"/>
<circle cx="919.8" cy="1005.5" r="7.6"/>
<circle cx="931.9" cy="1049.6" r="7.6"/>
<circle cx="944.0" cy="1065.6" r="7.6"/>
<circle cx="956.1" cy="1069.6" r="7.6"/>
<circle cx="956.1" cy="1013.6" r="7.6"/>
<circle cx="968.2" cy="1057.6" r="7.6"/>
<circle cx="968.2" cy="1041.6" r="7.6"/>
<circle cx="980.3" cy="1057.6" r="7.6"/>
<circle cx="992.4" cy="1073.7" r="7.6"/>
<circle cx="992.4" cy="1021.6" r="7.6"/>
<circle cx="1004.5" cy="1005.5" r="7.6"/>
<circle cx="1004.5" cy="973.5" r="7.6"/>
</g>
<g stroke="#66b5ff">
<circle cx="182.3" cy="1061.6" r="7.6"/>
<circle cx="254.9" cy="1149.8" r="7.6"/>
<circle cx="387.9" cy="1117.7" r="7.6"/>
<circle cx="448.3" cy="1149.8" r="7.6"/>
<circle cx="520.9" cy="1113.7" r="7.6"/>
<circle cx="520.9" cy="1109.7" r="7.6"/>
<circle cx="593.4" cy="1101.7" r="7.6"/>
<circle cx="629.7" cy="1105.7" r="7.6"/>
<circle cx="665.9" cy="1041.6" r="7.6"/>
<circle cx="702.2" cy="1069.6" r="7.6"/>
<circle cx="762.7" cy="1089.7" r="7.6"/>
<circle cx="786.8" cy="1077.7" r="7.6"/>
<circle cx="811.0" cy="1101.7" r="7.6"/>
<circle cx="811.0" cy="1093.7" r="7.6"/>
<circle cx="811.0" cy="1073.7" r="7.6"/>
<circle cx="811.0" cy="1005.5" r="7.6"/>
<circle cx="847.3" cy="1085.7" r="7.6"/>
<circle cx="847.3" cy="1077.7" r="7.6"/>
<circle cx="847.3" cy="1045.6" r="7.6"/>
<circle cx="871.5" cy="1053.6" r="7.6"/>
<circle cx="871.5" cy="1029.6" r="7.6"/>
<circle cx="883.6" cy="1065.6" r="7.6"/>
<circle cx="883.6" cy="1029.6" r="7.6"/>
<circle cx="895.6" cy="1057.6" r="7.6"/>
<circle cx="895.6" cy="1021.6" r="7.6"/>
<circle cx="907.7" cy="1045.6" r="7.6"/>
<circle cx="919.8" cy="1029.6" r="7.6"/>
<circle cx="944.0" cy="1069.6" r="7.6"/>
<circle cx="956.1" cy="1101.7" r="7.6"/>
<circle cx="956.1" cy="1025.6" r="7.6"/>
<circle cx="1004.5" cy="1077.7" r="7.6"/>
</g>
</g>
<g clip-path="url(#c3)" fill="none" stroke-width="2.8">
<g stroke="#c6c6c6">
<circle cx="170.2" cy="1856.8" r="7.6"/>
<circle cx="206.5" cy="1893.3" r="7.6"/>
<circle cx="206.5" cy="1890.0" r="7.6"/>
<circle cx="206.5" cy="1866.7" r="7.6"/>
<circle cx="206.5" cy="1843.5" r="7.6"/>
<circle cx="218.6" cy="1880.0" r="7.6"/>
<circle cx="218.6" cy="1836.8" r="7.6"/>
<circle cx="218.6" cy="1833.5" r="7.6"/>
<circle cx="218.6" cy="1767.1" r="7.6"/>
<circle cx="242.8" cy="1890.0" r="7.6"/>
<circle cx="242.8" cy="1870.1" r="7.6"/>
<circle cx="242.8" cy="1833.5" r="7.6"/>
<circle cx="242.8" cy="1816.9" r="7.6"/>
<circle cx="254.9" cy="1876.7" r="7.6"/>
<circle cx="267.0" cy="1870.1" r="7.6"/>
<circle cx="267.0" cy="1856.8" r="7.6"/>
<circle cx="267.0" cy="1846.8" r="7.6"/>
<circle cx="279.1" cy="1903.3" r="7.6"/>
<circle cx="279.1" cy="1846.8" r="7.6"/>
<circle cx="291.1" cy="1906.6" r="7.6"/>
<circle cx="291.1" cy="1833.5" r="7.6"/>
<circle cx="291.1" cy="1826.9" r="7.6"/>
<circle cx="291.1" cy="1644.1" r="7.6"/>
<circle cx="303.2" cy="1926.6" r="7.6"/>
<circle cx="303.2" cy="1870.1" r="7.6"/>
<circle cx="303.2" cy="1863.4" r="7.6"/>
<circle cx="303.2" cy="1856.8" r="7.6"/>
<circle cx="303.2" cy="1833.5" r="7.6"/>
<circle cx="315.3" cy="1943.2" r="7.6"/>
<circle cx="315.3" cy="1846.8" r="7.6"/>
<circle cx="327.4" cy="1890.0" r="7.6"/>
<circle cx="327.4" cy="1866.7" r="7.6"/>
<circle cx="327.4" cy="1863.4" r="7.6"/>
<circle cx="327.4" cy="1833.5" r="7.6"/>
<circle cx="339.5" cy="1883.4" r="7.6"/>
<circle cx="339.5" cy="1866.7" r="7.6"/>
<circle cx="339.5" cy="1833.5" r="7.6"/>
<circle cx="339.5" cy="1826.9" r="7.6"/>
<circle cx="351.6" cy="1933.2" r="7.6"/>
<circle cx="351.6" cy="1900.0" r="7.6"/>
<circle cx="351.6" cy="1863.4" r="7.6"/>
<circle cx="351.6" cy="1853.5" r="7.6"/>
<circle cx="351.6" cy="1787.0" r="7.6"/>
<circle cx="363.7" cy="1883.4" r="7.6"/>
<circle cx="363.7" cy="1876.7" r="7.6"/>
<circle cx="363.7" cy="1810.3" r="7.6"/>
<circle cx="375.8" cy="1800.3" r="7.6"/>
<circle cx="375.8" cy="1767.1" r="7.6"/>
<circle cx="387.9" cy="1890.0" r="7.6"/>
<circle cx="387.9" cy="1873.4" r="7.6"/>
<circle cx="387.9" cy="1866.7" r="7.6"/>
<circle cx="387.9" cy="1816.9" r="7.6"/>
<circle cx="387.9" cy="1810.3" r="7.6"/>
<circle cx="400.0" cy="1890.0" r="7.6"/>
<circle cx="400.0" cy="1856.8" r="7.6"/>
<circle cx="400.0" cy="1846.8" r="7.6"/>
<circle cx="400.0" cy="1654.1" r="7.6"/>
<circle cx="400.0" cy="1458.0" r="7.6"/>
<circle cx="412.0" cy="1863.4" r="7.6"/>
<circle cx="412.0" cy="1853.5" r="7.6"/>
<circle cx="412.0" cy="1846.8" r="7.6"/>
<circle cx="424.1" cy="1836.8" r="7.6"/>
<circle cx="424.1" cy="1823.5" r="7.6"/>
<circle cx="436.2" cy="1890.0" r="7.6"/>
<circle cx="436.2" cy="1880.0" r="7.6"/>
<circle cx="436.2" cy="1816.9" r="7.6"/>
<circle cx="448.3" cy="1890.0" r="7.6"/>
<circle cx="448.3" cy="1793.6" r="7.6"/>
<circle cx="460.4" cy="1866.7" r="7.6"/>
<circle cx="460.4" cy="1833.5" r="7.6"/>
<circle cx="460.4" cy="1826.9" r="7.6"/>
<circle cx="460.4" cy="1760.4" r="7.6"/>
<circle cx="472.5" cy="1846.8" r="7.6"/>
<circle cx="472.5" cy="1823.5" r="7.6"/>
<circle cx="472.5" cy="1780.3" r="7.6"/>
<circle cx="472.5" cy="1747.1" r="7.6"/>
<circle cx="484.6" cy="1866.7" r="7.6"/>
<circle cx="484.6" cy="1846.8" r="7.6"/>
<circle cx="484.6" cy="1816.9" r="7.6"/>
<circle cx="484.6" cy="1800.3" r="7.6"/>
<circle cx="484.6" cy="1773.7" r="7.6"/>
<circle cx="484.6" cy="1703.9" r="7.6"/>
<circle cx="496.7" cy="1846.8" r="7.6"/>
<circle cx="496.7" cy="1816.9" r="7.6"/>
<circle cx="496.7" cy="1760.4" r="7.6"/>
<circle cx="508.8" cy="1836.8" r="7.6"/>
<circle cx="508.8" cy="1833.5" r="7.6"/>
<circle cx="508.8" cy="1823.5" r="7.6"/>
<circle cx="508.8" cy="1787.0" r="7.6"/>
<circle cx="508.8" cy="1760.4" r="7.6"/>
<circle cx="508.8" cy="1737.1" r="7.6"/>
<circle cx="520.9" cy="1853.5" r="7.6"/>
<circle cx="532.9" cy="1876.7" r="7.6"/>
<circle cx="532.9" cy="1843.5" r="7.6"/>
<circle cx="532.9" cy="1816.9" r="7.6"/>
<circle cx="532.9" cy="1803.6" r="7.6"/>
<circle cx="545.0" cy="1697.3" r="7.6"/>
<circle cx="545.0" cy="1634.1" r="7.6"/>
<circle cx="557.1" cy="1900.0" r="7.6"/>
<circle cx="557.1" cy="1803.6" r="7.6"/>
<circle cx="569.2" cy="1876.7" r="7.6"/>
<circle cx="569.2" cy="1856.8" r="7.6"/>
<circle cx="569.2" cy="1810.3" r="7.6"/>
<circle cx="593.4" cy="1846.8" r="7.6"/>
<circle cx="593.4" cy="1773.7" r="7.6"/>
<circle cx="593.4" cy="1747.1" r="7.6"/>
<circle cx="605.5" cy="1893.3" r="7.6"/>
<circle cx="605.5" cy="1846.8" r="7.6"/>
<circle cx="605.5" cy="1833.5" r="7.6"/>
<circle cx="605.5" cy="1816.9" r="7.6"/>
<circle cx="605.5" cy="1780.3" r="7.6"/>
<circle cx="605.5" cy="1547.7" r="7.6"/>
<circle cx="617.6" cy="1833.5" r="7.6"/>
<circle cx="617.6" cy="1806.9" r="7.6"/>
<circle cx="617.6" cy="1800.3" r="7.6"/>
<circle cx="629.7" cy="1906.6" r="7.6"/>
<circle cx="629.7" cy="1813.6" r="7.6"/>
<circle cx="629.7" cy="1737.1" r="7.6"/>
<circle cx="629.7" cy="1571.0" r="7.6"/>
<circle cx="641.8" cy="1833.5" r="7.6"/>
<circle cx="641.8" cy="1823.5" r="7.6"/>
<circle cx="641.8" cy="1816.9" r="7.6"/>
<circle cx="641.8" cy="1800.3" r="7.6"/>
<circle cx="641.8" cy="1767.1" r="7.6"/>
<circle cx="653.9" cy="1846.8" r="7.6"/>
<circle cx="653.9" cy="1773.7" r="7.6"/>
<circle cx="665.9" cy="1896.7" r="7.6"/>
<circle cx="665.9" cy="1863.4" r="7.6"/>
<circle cx="690.1" cy="1890.0" r="7.6"/>
<circle cx="690.1" cy="1883.4" r="7.6"/>
<circle cx="690.1" cy="1800.3" r="7.6"/>
<circle cx="702.2" cy="1919.9" r="7.6"/>
<circle cx="702.2" cy="1793.6" r="7.6"/>
<circle cx="714.3" cy="1826.9" r="7.6"/>
<circle cx="714.3" cy="1810.3" r="7.6"/>
<circle cx="714.3" cy="1800.3" r="7.6"/>
<circle cx="726.4" cy="1846.8" r="7.6"/>
<circle cx="726.4" cy="1747.1" r="7.6"/>
<circle cx="738.5" cy="1846.8" r="7.6"/>
<circle cx="738.5" cy="1823.5" r="7.6"/>
<circle cx="738.5" cy="1816.9" r="7.6"/>
<circle cx="738.5" cy="1737.1" r="7.6"/>
<circle cx="762.7" cy="1743.8" r="7.6"/>
<circle cx="774.8" cy="1770.4" r="7.6"/>
<circle cx="786.8" cy="1856.8" r="7.6"/>
<circle cx="786.8" cy="1850.1" r="7.6"/>
<circle cx="786.8" cy="1816.9" r="7.6"/>
<circle cx="798.9" cy="1797.0" r="7.6"/>
<circle cx="798.9" cy="1780.3" r="7.6"/>
<circle cx="798.9" cy="1767.1" r="7.6"/>
<circle cx="811.0" cy="1933.2" r="7.6"/>
<circle cx="823.1" cy="1856.8" r="7.6"/>
<circle cx="823.1" cy="1826.9" r="7.6"/>
<circle cx="823.1" cy="1793.6" r="7.6"/>
<circle cx="823.1" cy="1767.1" r="7.6"/>
<circle cx="835.2" cy="1793.6" r="7.6"/>
<circle cx="847.3" cy="1737.1" r="7.6"/>
<circle cx="859.4" cy="1733.8" r="7.6"/>
<circle cx="883.6" cy="1903.3" r="7.6"/>
<circle cx="883.6" cy="1800.3" r="7.6"/>
<circle cx="907.7" cy="1820.2" r="7.6"/>
<circle cx="919.8" cy="1826.9" r="7.6"/>
<circle cx="919.8" cy="1810.3" r="7.6"/>
<circle cx="931.9" cy="1843.5" r="7.6"/>
<circle cx="931.9" cy="1780.3" r="7.6"/>
<circle cx="944.0" cy="1810.3" r="7.6"/>
<circle cx="944.0" cy="1760.4" r="7.6"/>
<circle cx="944.0" cy="1737.1" r="7.6"/>
<circle cx="956.1" cy="1800.3" r="7.6"/>
<circle cx="980.3" cy="1826.9" r="7.6"/>
<circle cx="992.4" cy="1853.5" r="7.6"/>
<circle cx="992.4" cy="1850.1" r="7.6"/>
<circle cx="992.4" cy="1843.5" r="7.6"/>
<circle cx="992.4" cy="1833.5" r="7.6"/>
<circle cx="992.4" cy="1816.9" r="7.6"/>
<circle cx="1004.5" cy="1833.5" r="7.6"/>
<circle cx="1016.5" cy="1773.7" r="7.6"/>
</g>
<g stroke="#cc99ff">
<circle cx="182.3" cy="1863.4" r="7.6"/>
<circle cx="254.9" cy="1883.4" r="7.6"/>
<circle cx="279.1" cy="1856.8" r="7.6"/>
<circle cx="303.2" cy="1654.1" r="7.6"/>
<circle cx="339.5" cy="1856.8" r="7.6"/>
<circle cx="387.9" cy="1843.5" r="7.6"/>
<circle cx="387.9" cy="1833.5" r="7.6"/>
<circle cx="448.3" cy="1823.5" r="7.6"/>
<circle cx="460.4" cy="1777.0" r="7.6"/>
<circle cx="472.5" cy="1853.5" r="7.6"/>
<circle cx="496.7" cy="1866.7" r="7.6"/>
<circle cx="520.9" cy="1826.9" r="7.6"/>
<circle cx="520.9" cy="1816.9" r="7.6"/>
<circle cx="569.2" cy="1826.9" r="7.6"/>
<circle cx="581.3" cy="1843.5" r="7.6"/>
<circle cx="581.3" cy="1823.5" r="7.6"/>
<circle cx="581.3" cy="1810.3" r="7.6"/>
<circle cx="593.4" cy="1900.0" r="7.6"/>
<circle cx="605.5" cy="1810.3" r="7.6"/>
<circle cx="629.7" cy="1979.7" r="7.6"/>
<circle cx="629.7" cy="1846.8" r="7.6"/>
<circle cx="629.7" cy="1803.6" r="7.6"/>
<circle cx="629.7" cy="1664.0" r="7.6"/>
<circle cx="641.8" cy="1900.0" r="7.6"/>
<circle cx="665.9" cy="1909.9" r="7.6"/>
<circle cx="665.9" cy="1853.5" r="7.6"/>
<circle cx="665.9" cy="1826.9" r="7.6"/>
<circle cx="678.0" cy="1733.8" r="7.6"/>
<circle cx="690.1" cy="1853.5" r="7.6"/>
<circle cx="690.1" cy="1810.3" r="7.6"/>
<circle cx="690.1" cy="1730.5" r="7.6"/>
<circle cx="702.2" cy="1826.9" r="7.6"/>
<circle cx="702.2" cy="1753.8" r="7.6"/>
<circle cx="702.2" cy="1723.9" r="7.6"/>
<circle cx="702.2" cy="1690.6" r="7.6"/>
<circle cx="738.5" cy="1723.9" r="7.6"/>
<circle cx="750.6" cy="1890.0" r="7.6"/>
<circle cx="750.6" cy="1853.5" r="7.6"/>
<circle cx="750.6" cy="1810.3" r="7.6"/>
<circle cx="750.6" cy="1581.0" r="7.6"/>
<circle cx="762.7" cy="1853.5" r="7.6"/>
<circle cx="762.7" cy="1823.5" r="7.6"/>
<circle cx="762.7" cy="1753.8" r="7.6"/>
<circle cx="786.8" cy="1836.8" r="7.6"/>
<circle cx="786.8" cy="1803.6" r="7.6"/>
<circle cx="786.8" cy="1773.7" r="7.6"/>
<circle cx="798.9" cy="1936.5" r="7.6"/>
<circle cx="811.0" cy="1883.4" r="7.6"/>
<circle cx="811.0" cy="1880.0" r="7.6"/>
<circle cx="811.0" cy="1876.7" r="7.6"/>
<circle cx="811.0" cy="1836.8" r="7.6"/>
<circle cx="811.0" cy="1803.6" r="7.6"/>
<circle cx="811.0" cy="1787.0" r="7.6"/>
<circle cx="823.1" cy="1843.5" r="7.6"/>
<circle cx="823.1" cy="1760.4" r="7.6"/>
<circle cx="835.2" cy="1833.5" r="7.6"/>
<circle cx="835.2" cy="1780.3" r="7.6"/>
<circle cx="847.3" cy="1803.6" r="7.6"/>
<circle cx="847.3" cy="1793.6" r="7.6"/>
<circle cx="847.3" cy="1760.4" r="7.6"/>
<circle cx="859.4" cy="1737.1" r="7.6"/>
<circle cx="871.5" cy="1916.6" r="7.6"/>
<circle cx="871.5" cy="1903.3" r="7.6"/>
<circle cx="871.5" cy="1803.6" r="7.6"/>
<circle cx="871.5" cy="1787.0" r="7.6"/>
<circle cx="883.6" cy="1846.8" r="7.6"/>
<circle cx="883.6" cy="1840.2" r="7.6"/>
<circle cx="883.6" cy="1773.7" r="7.6"/>
<circle cx="883.6" cy="1723.9" r="7.6"/>
<circle cx="895.6" cy="1793.6" r="7.6"/>
<circle cx="895.6" cy="1787.0" r="7.6"/>
<circle cx="895.6" cy="1753.8" r="7.6"/>
<circle cx="907.7" cy="1826.9" r="7.6"/>
<circle cx="919.8" cy="1846.8" r="7.6"/>
<circle cx="919.8" cy="1767.1" r="7.6"/>
<circle cx="919.8" cy="1614.2" r="7.6"/>
<circle cx="931.9" cy="1787.0" r="7.6"/>
<circle cx="944.0" cy="1823.5" r="7.6"/>
<circle cx="956.1" cy="1823.5" r="7.6"/>
<circle cx="968.2" cy="1803.6" r="7.6"/>
<circle cx="968.2" cy="1747.1" r="7.6"/>
<circle cx="980.3" cy="1793.6" r="7.6"/>
<circle cx="992.4" cy="1823.5" r="7.6"/>
<circle cx="992.4" cy="1690.6" r="7.6"/>
<circle cx="1004.5" cy="1883.4" r="7.6"/>
<circle cx="1004.5" cy="1880.0" r="7.6"/>
<circle cx="1004.5" cy="1803.6" r="7.6"/>
</g>
<g stroke="#66b5ff">
<circle cx="182.3" cy="1949.8" r="7.6"/>
<circle cx="254.9" cy="1906.6" r="7.6"/>
<circle cx="387.9" cy="1929.9" r="7.6"/>
<circle cx="448.3" cy="1880.0" r="7.6"/>
<circle cx="520.9" cy="1883.4" r="7.6"/>
<circle cx="520.9" cy="1880.0" r="7.6"/>
<circle cx="593.4" cy="1870.1" r="7.6"/>
<circle cx="629.7" cy="1853.5" r="7.6"/>
<circle cx="665.9" cy="1876.7" r="7.6"/>
<circle cx="678.0" cy="1896.7" r="7.6"/>
<circle cx="702.2" cy="1803.6" r="7.6"/>
<circle cx="762.7" cy="1836.8" r="7.6"/>
<circle cx="786.8" cy="1866.7" r="7.6"/>
<circle cx="811.0" cy="1866.7" r="7.6"/>
<circle cx="811.0" cy="1843.5" r="7.6"/>
<circle cx="811.0" cy="1820.2" r="7.6"/>
<circle cx="847.3" cy="1833.5" r="7.6"/>
<circle cx="847.3" cy="1830.2" r="7.6"/>
<circle cx="847.3" cy="1826.9" r="7.6"/>
<circle cx="847.3" cy="1823.5" r="7.6"/>
<circle cx="847.3" cy="1820.2" r="7.6"/>
<circle cx="871.5" cy="1850.1" r="7.6"/>
<circle cx="871.5" cy="1813.6" r="7.6"/>
<circle cx="883.6" cy="1836.8" r="7.6"/>
<circle cx="883.6" cy="1820.2" r="7.6"/>
<circle cx="895.6" cy="1830.2" r="7.6"/>
<circle cx="895.6" cy="1813.6" r="7.6"/>
<circle cx="907.7" cy="1843.5" r="7.6"/>
<circle cx="919.8" cy="1843.5" r="7.6"/>
<circle cx="944.0" cy="1830.2" r="7.6"/>
<circle cx="956.1" cy="1833.5" r="7.6"/>
<circle cx="956.1" cy="1820.2" r="7.6"/>
<circle cx="1004.5" cy="1787.0" r="7.6"/>
</g>
</g>
<g clip-path="url(#c1)">
<path d="M351.6 330.0V506.7M333.6 330.0h36M333.6 506.7h36" stroke="#ff474c" stroke-width="7.6" fill="none"/>
<path d="M351.6 447.3V559.0M333.6 447.3h36M333.6 559.0h36" stroke="#ff474c" stroke-width="7.6" fill="none"/>
<path d="M375.8 493.3V592.7M357.8 493.3h36M357.8 592.7h36" stroke="#ff474c" stroke-width="7.6" fill="none"/>
<path d="M569.2 332.3V446.0M551.2 332.3h36M551.2 446.0h36" stroke="#ff474c" stroke-width="7.6" fill="none"/>
<path d="M665.9 365.5V421.0M647.9 365.5h36M647.9 421.0h36" stroke="#ff474c" stroke-width="7.6" fill="none"/>
<path d="M678.0 200.0V326.0M660.0 200.0h36M660.0 326.0h36" stroke="#ff474c" stroke-width="7.6" fill="none"/>
<path d="M859.4 230.0V290.6M841.4 230.0h36M841.4 290.6h36" stroke="#ff474c" stroke-width="7.6" fill="none"/>
<path d="M375.8 435.0V536.0M357.8 435.0h36M357.8 536.0h36" stroke="#b56576" stroke-width="7.6" fill="none"/>
<path d="M448.3 326.0V489.0M430.3 326.0h36M430.3 489.0h36" stroke="#b56576" stroke-width="7.6" fill="none"/>
<path d="M545.0 268.3V406.0M527.0 268.3h36M527.0 406.0h36" stroke="#b56576" stroke-width="7.6" fill="none"/>
<path d="M665.9 352.3V414.3M647.9 352.3h36M647.9 414.3h36" stroke="#b56576" stroke-width="7.6" fill="none"/>
<path d="M678.0 218.3V333.5M660.0 218.3h36M660.0 333.5h36" stroke="#b56576" stroke-width="7.6" fill="none"/>
<path d="M762.7 218.3V484.0M744.7 218.3h36M744.7 484.0h36" stroke="#b56576" stroke-width="7.6" fill="none"/>
<path d="M859.4 261.0V345.7M841.4 261.0h36M841.4 345.7h36" stroke="#b56576" stroke-width="7.6" fill="none"/>
<path d="M750.6 197.7V420.0M732.6 197.7h36M732.6 420.0h36" stroke="#ff7752" stroke-width="7.6" fill="none"/>
<circle cx="351.6" cy="418.3" r="14.1" fill="#ff474c"/>
<circle cx="351.6" cy="504.0" r="14.1" fill="#ff474c"/>
<circle cx="375.8" cy="542.7" r="14.1" fill="#ff474c"/>
<circle cx="569.2" cy="389.0" r="14.1" fill="#ff474c"/>
<circle cx="665.9" cy="394.0" r="14.1" fill="#ff474c"/>
<circle cx="678.0" cy="261.7" r="14.1" fill="#ff474c"/>
<circle cx="859.4" cy="260.5" r="14.1" fill="#ff474c"/>
<circle cx="375.8" cy="485.5" r="14.1" fill="#b56576"/>
<circle cx="448.3" cy="407.7" r="14.1" fill="#b56576"/>
<circle cx="545.0" cy="337.0" r="14.1" fill="#b56576"/>
<circle cx="665.9" cy="383.3" r="14.1" fill="#b56576"/>
<circle cx="678.0" cy="275.5" r="14.1" fill="#b56576"/>
<circle cx="762.7" cy="351.2" r="14.1" fill="#b56576"/>
<circle cx="859.4" cy="303.5" r="14.1" fill="#b56576"/>
<circle cx="750.6" cy="308.9" r="14.1" fill="#ff7752"/>
</g>
<g clip-path="url(#c2)">
<path d="M375.8 1149.0V1153.0M357.8 1149.0h36M357.8 1153.0h36" stroke="#b56576" stroke-width="7.6" fill="none"/>
<path d="M448.3 1026.0V1114.3M430.3 1026.0h36M430.3 1114.3h36" stroke="#b56576" stroke-width="7.6" fill="none"/>
<path d="M545.0 1006.0V1146.0M527.0 1006.0h36M527.0 1146.0h36" stroke="#b56576" stroke-width="7.6" fill="none"/>
<path d="M617.6 946.7V1031.0M599.6 946.7h36M599.6 1031.0h36" stroke="#b56576" stroke-width="7.6" fill="none"/>
<path d="M665.9 1074.0V1106.0M647.9 1074.0h36M647.9 1106.0h36" stroke="#b56576" stroke-width="7.6" fill="none"/>
<path d="M678.0 1035.0V1071.0M660.0 1035.0h36M660.0 1071.0h36" stroke="#b56576" stroke-width="7.6" fill="none"/>
<path d="M762.7 905.7V1071.0M744.7 905.7h36M744.7 1071.0h36" stroke="#b56576" stroke-width="7.6" fill="none"/>
<path d="M859.4 990.1V1021.9M841.4 990.1h36M841.4 1021.9h36" stroke="#b56576" stroke-width="7.6" fill="none"/>
<path d="M859.4 1100.7V1183.5M841.4 1100.7h36M841.4 1183.5h36" stroke="#b56576" stroke-width="7.6" fill="none"/>
<path d="M242.8 1016.7V1253.3M224.8 1016.7h36M224.8 1253.3h36" stroke="#ff7752" stroke-width="7.6" fill="none"/>
<path d="M714.3 715.0V1061.7M696.3 715.0h36M696.3 1061.7h36" stroke="#ff7752" stroke-width="7.6" fill="none"/>
<path d="M750.6 983.3V1055.0M732.6 983.3h36M732.6 1055.0h36" stroke="#ff7752" stroke-width="7.6" fill="none"/>
<path d="M968.2 950.6V996.0M950.2 950.6h36M950.2 996.0h36" stroke="#ff7752" stroke-width="7.6" fill="none"/>
<circle cx="375.8" cy="1151.0" r="14.1" fill="#b56576"/>
<circle cx="448.3" cy="1070.0" r="14.1" fill="#b56576"/>
<circle cx="545.0" cy="1076.0" r="14.1" fill="#b56576"/>
<circle cx="617.6" cy="988.3" r="14.1" fill="#b56576"/>
<circle cx="665.9" cy="1090.0" r="14.1" fill="#b56576"/>
<circle cx="678.0" cy="1051.7" r="14.1" fill="#b56576"/>
<circle cx="762.7" cy="988.3" r="14.1" fill="#b56576"/>
<circle cx="859.4" cy="1005.9" r="14.1" fill="#b56576"/>
<circle cx="859.4" cy="1141.6" r="14.1" fill="#b56576"/>
<circle cx="242.8" cy="1135.0" r="14.1" fill="#ff7752"/>
<circle cx="714.3" cy="888.3" r="14.1" fill="#ff7752"/>
<circle cx="750.6" cy="1018.3" r="14.1" fill="#ff7752"/>
<circle cx="968.2" cy="972.9" r="14.1" fill="#ff7752"/>
</g>
<g clip-path="url(#c3)">
<path d="M375.8 1765.0V1859.3M357.8 1765.0h36M357.8 1859.3h36" stroke="#b56576" stroke-width="7.6" fill="none"/>
<path d="M448.3 1768.3V1936.0M430.3 1768.3h36M430.3 1936.0h36" stroke="#b56576" stroke-width="7.6" fill="none"/>
<path d="M545.0 1643.3V1914.0M527.0 1643.3h36M527.0 1914.0h36" stroke="#b56576" stroke-width="7.6" fill="none"/>
<path d="M678.0 1674.3V1825.0M660.0 1674.3h36M660.0 1825.0h36" stroke="#b56576" stroke-width="7.6" fill="none"/>
<path d="M665.9 1765.0V1841.7M647.9 1765.0h36M647.9 1841.7h36" stroke="#b56576" stroke-width="7.6" fill="none"/>
<path d="M762.7 1788.3V2011.7M744.7 1788.3h36M744.7 2011.7h36" stroke="#b56576" stroke-width="7.6" fill="none"/>
<path d="M859.4 1455.0V1725.9M841.4 1455.0h36M841.4 1725.9h36" stroke="#b56576" stroke-width="7.6" fill="none"/>
<path d="M859.4 1809.4V1886.7M841.4 1809.4h36M841.4 1886.7h36" stroke="#b56576" stroke-width="7.6" fill="none"/>
<path d="M750.6 1729.0V1940.7M732.6 1729.0h36M732.6 1940.7h36" stroke="#ff7752" stroke-width="7.6" fill="none"/>
<circle cx="375.8" cy="1812.3" r="14.1" fill="#b56576"/>
<circle cx="448.3" cy="1851.7" r="14.1" fill="#b56576"/>
<circle cx="545.0" cy="1778.3" r="14.1" fill="#b56576"/>
<circle cx="678.0" cy="1750.0" r="14.1" fill="#b56576"/>
<circle cx="665.9" cy="1803.3" r="14.1" fill="#b56576"/>
<circle cx="762.7" cy="1900.0" r="14.1" fill="#b56576"/>
<circle cx="859.4" cy="1590.0" r="14.1" fill="#b56576"/>
<circle cx="859.4" cy="1847.5" r="14.1" fill="#b56576"/>
<circle cx="750.6" cy="1835.0" r="14.1" fill="#ff7752"/>
</g>
<g stroke="#000" fill="none">
<rect x="166.0" y="0" width="7.9" height="2049.8" fill="#000" stroke="none"/>
<path d="M166.0 2046.0H1020" stroke-width="7.6"/>
<rect x="166.0" y="0" width="1020" height="7.2" fill="#000" stroke="none"/>
<rect x="1012.5" y="0" width="8" height="2049.8" fill="#000" stroke="none"/>
<path d="M166.0 684.6H1020M166.0 1365.1H1020" stroke-width="8.2"/>
</g>
<text x="161.2" y="107.3" font-size="46.3" text-anchor="end">0.4</text>
<text x="161.2" y="229.9" font-size="46.3" text-anchor="end">0.2</text>
<text x="161.2" y="352.4" font-size="46.3" text-anchor="end">0.0</text>
<text x="161.2" y="475.0" font-size="46.3" text-anchor="end">−0.2</text>
<text x="161.2" y="597.6" font-size="46.3" text-anchor="end">−0.4</text>
<text x="161.2" y="758.9" font-size="46.3" text-anchor="end">0.9</text>
<text x="161.2" y="879.1" font-size="46.3" text-anchor="end">0.6</text>
<text x="161.2" y="999.3" font-size="46.3" text-anchor="end">0.3</text>
<text x="161.2" y="1119.5" font-size="46.3" text-anchor="end">0.0</text>
<text x="161.2" y="1239.7" font-size="46.3" text-anchor="end">−0.3</text>
<text x="161.2" y="1359.9" font-size="46.3" text-anchor="end">−0.6</text>
<text x="161.2" y="1416.0" font-size="46.3" text-anchor="end">2.0</text>
<text x="161.2" y="1482.5" font-size="46.3" text-anchor="end">1.8</text>
<text x="161.2" y="1548.9" font-size="46.3" text-anchor="end">1.6</text>
<text x="161.2" y="1615.4" font-size="46.3" text-anchor="end">1.4</text>
<text x="161.2" y="1681.8" font-size="46.3" text-anchor="end">1.2</text>
<text x="161.2" y="1748.3" font-size="46.3" text-anchor="end">1.0</text>
<text x="161.2" y="1814.8" font-size="46.3" text-anchor="end">0.8</text>
<text x="161.2" y="1881.2" font-size="46.3" text-anchor="end">0.6</text>
<text x="161.2" y="1947.7" font-size="46.3" text-anchor="end">0.4</text>
<text x="161.2" y="2014.1" font-size="46.3" text-anchor="end">0.2</text>
<text x="351.6" y="2090.3" font-size="46.3" text-anchor="middle">−0.2</text>
<text x="593.4" y="2090.3" font-size="46.3" text-anchor="middle">0.0</text>
<text x="835.2" y="2090.3" font-size="46.3" text-anchor="middle">0.2</text>
<text x="593.2" y="2140" font-size="41" text-anchor="middle">[Fe/H] (dex)</text>
<text transform="translate(30.7 344) rotate(-90)" font-size="41" text-anchor="middle">[C/H] (dex)</text>
<text transform="translate(30.7 1024.5) rotate(-90)" font-size="41" text-anchor="middle">[O/H] (dex)</text>
<text transform="translate(69.7 1706.5) rotate(-90)" font-size="41" text-anchor="middle">C/O</text>
<path d="M237.3 32.5V67.9M219.3 32.5h36M219.3 67.9h36" stroke="#ff474c" stroke-width="7.6" fill="none"/>
<circle cx="237.3" cy="50.2" r="14.1" fill="#ff474c"/>
<text x="300.3" y="63.3" font-size="35.8">HARPS</text>
<path d="M237.3 84.3V119.7M219.3 84.3h36M219.3 119.7h36" stroke="#b56576" stroke-width="7.6" fill="none"/>
<circle cx="237.3" cy="102" r="14.1" fill="#b56576"/>
<text x="300.3" y="115.1" font-size="35.8">FEROS</text>
<path d="M237.3 136.5V171.89999999999998M219.3 136.5h36M219.3 171.89999999999998h36" stroke="#ff7752" stroke-width="7.6" fill="none"/>
<circle cx="237.3" cy="154.2" r="14.1" fill="#ff7752"/>
<text x="300.3" y="167.3" font-size="35.8">HIRES</text>
<circle cx="237.3" cy="731" r="7.6" fill="none" stroke="#66b5ff" stroke-width="2.8"/>
<circle cx="237.3" cy="783.3" r="7.6" fill="none" stroke="#cc99ff" stroke-width="2.8"/>
<circle cx="237.3" cy="859.3" r="7.6" fill="none" stroke="#c6c6c6" stroke-width="2.8"/>
<text x="300.3" y="743.3" font-size="35.8">Nissen (2013)</text>
<text x="300.3" y="795" font-size="35.8">Delgado Mena (2010)</text>
<text x="300.3" y="847.3" font-size="35.8">Delgado Mena (2010)</text>
<text x="300.3" y="887.3" font-size="35.8">Non planet-host stars</text>
</svg></body></html>
